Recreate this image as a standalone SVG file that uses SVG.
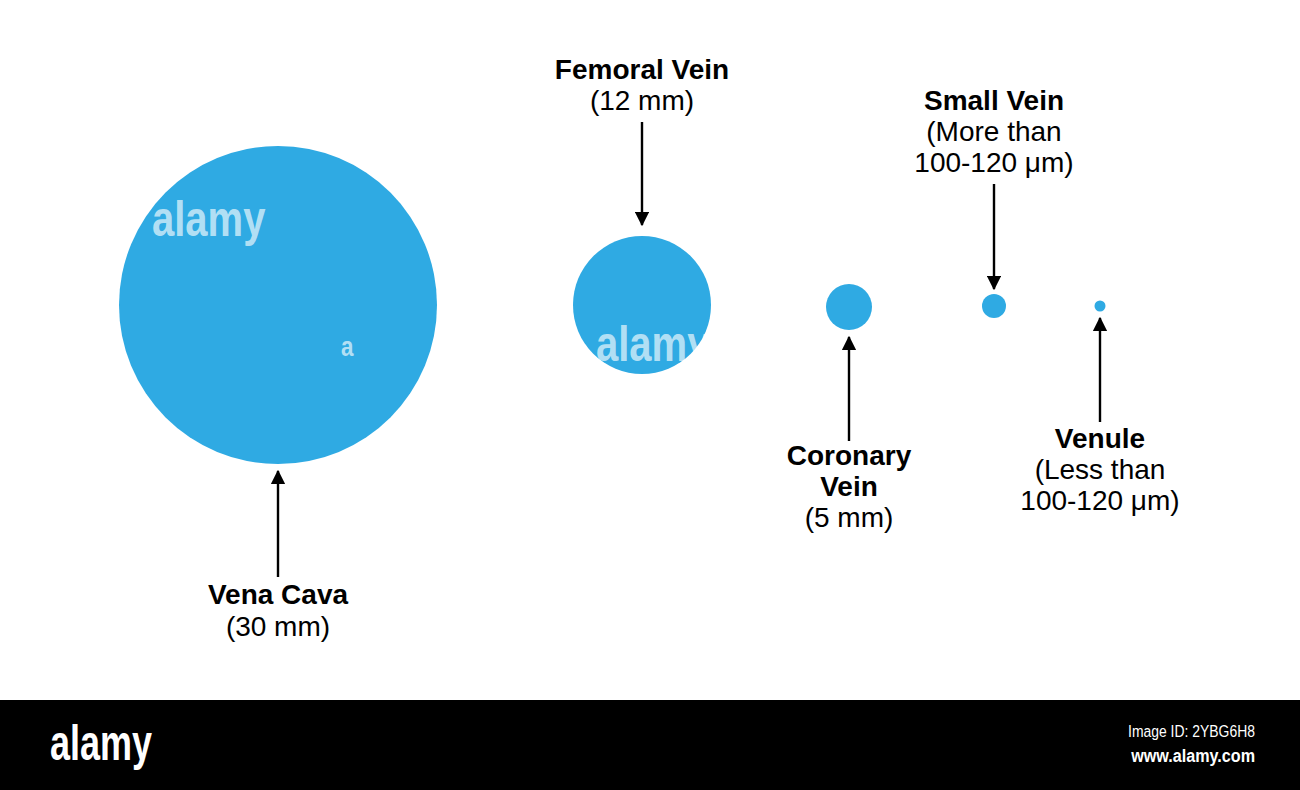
<svg xmlns="http://www.w3.org/2000/svg" width="1300" height="790" viewBox="0 0 1300 790">
<defs>
<marker id="ah" markerWidth="6" markerHeight="6" refX="5.5" refY="3" orient="auto" markerUnits="strokeWidth">
<path d="M0,0 L6,3 L0,6 Z" fill="#000"/>
</marker>
<style>
.v{fill:#2faae3}
.b{font-family:"Liberation Sans",Arial,sans-serif;font-weight:bold;font-size:28px;fill:#000;text-anchor:middle}
.r{font-family:"Liberation Sans",Arial,sans-serif;font-size:28px;fill:#000;text-anchor:middle}
.c line{stroke:#000;stroke-width:2.4;marker-end:url(#ah)}
.wm{font-family:"Liberation Sans",Arial,sans-serif;font-weight:bold;fill:#fff;fill-opacity:0.65}
</style>
</defs>
<rect width="1300" height="790" fill="#fff"/>
<g id="vena-cava">
<circle class="v" cx="278" cy="305" r="159"/>
<text class="b" x="278" y="604">Vena Cava</text>
<text class="r" x="278" y="636">(30 mm)</text>
</g>
<g id="femoral-vein">
<circle class="v" cx="642" cy="305" r="69"/>
<text class="b" x="642" y="79">Femoral Vein</text>
<text class="r" x="642" y="110">(12 mm)</text>
</g>
<g id="coronary-vein">
<circle class="v" cx="849" cy="307" r="23"/>
<text class="b" x="849" y="465">Coronary</text>
<text class="b" x="849" y="496">Vein</text>
<text class="r" x="849" y="527">(5 mm)</text>
</g>
<g id="small-vein">
<circle class="v" cx="994" cy="306" r="12"/>
<text class="b" x="994" y="110">Small Vein</text>
<text class="r" x="994" y="141">(More than</text>
<text class="r" x="994" y="172">100-120 μm)</text>
</g>
<g id="venule">
<circle class="v" cx="1100" cy="306" r="5.5"/>
<text class="b" x="1100" y="448">Venule</text>
<text class="r" x="1100" y="479">(Less than</text>
<text class="r" x="1100" y="510">100-120 μm)</text>
</g>
<g id="connectors" class="c">
<line x1="642" y1="122" x2="642" y2="225"/>
<line x1="994" y1="184" x2="994" y2="289"/>
<line x1="849" y1="441" x2="849" y2="337"/>
<line x1="1100" y1="422" x2="1100" y2="318"/>
<line x1="278" y1="577" x2="278" y2="471"/>
</g>
<g id="watermarks">
<text class="wm" font-size="50" transform="translate(152,236) scale(0.8,1)">alamy</text>
<text class="wm" font-size="50" transform="translate(596,361) scale(0.8,1)">alamy</text>
<text class="wm" font-size="28" transform="translate(341,356) scale(0.8,1)">a</text>
</g>
<g id="footer">
<rect x="0" y="700" width="1300" height="90" fill="#000"/>
<text font-family="Liberation Sans,Arial,sans-serif" font-weight="bold" font-size="50" fill="#fff" transform="translate(50,760) scale(0.72,1)">alamy</text>
<text font-family="Liberation Sans,Arial,sans-serif" font-size="17" fill="#fff" transform="translate(1255,737) scale(0.82,1)" text-anchor="end">Image ID: 2YBG6H8</text>
<text font-family="Liberation Sans,Arial,sans-serif" font-weight="bold" font-size="19" fill="#fff" transform="translate(1255,762) scale(0.85,1)" text-anchor="end">www.alamy.com</text>
</g>
</svg>
